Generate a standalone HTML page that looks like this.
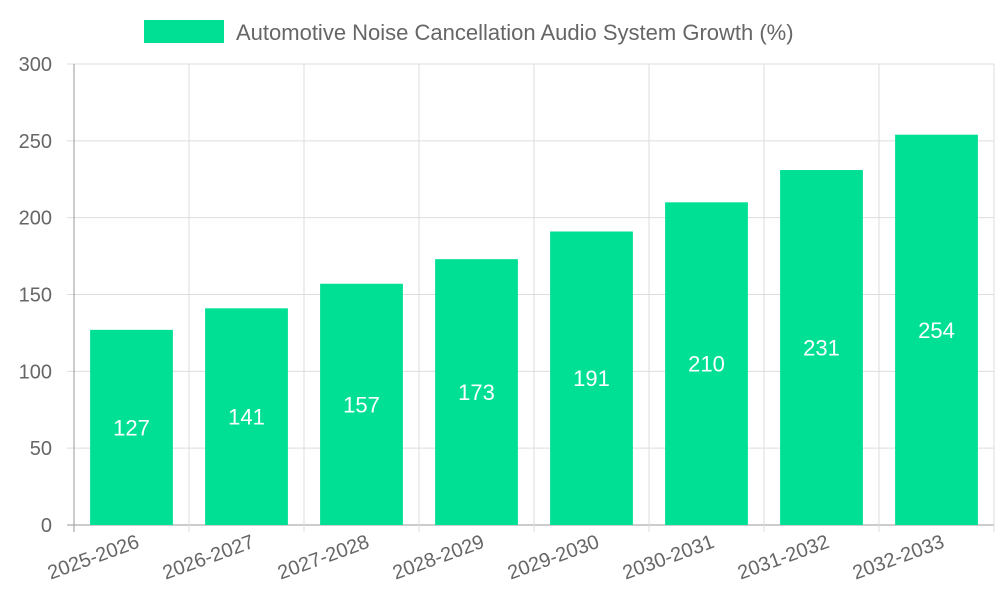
<!DOCTYPE html>
<html><head><meta charset="utf-8"><style>
body{margin:0;background:#fff;font-family:"Liberation Sans",sans-serif}
svg text{font-family:"Liberation Sans",sans-serif}
</style></head><body>
<svg id="chart" width="1000" height="600">
<g id="grid"></g><g id="bars"></g><g id="labels"></g>
<g>
<rect x="144" y="20" width="80" height="23" fill="#00e094"/>
<text x="236" y="40" font-size="22" fill="#666">Automotive Noise Cancellation Audio System Growth (%)</text>
</g>
</svg>
<script>
const categories=["2025-2026","2026-2027","2027-2028","2028-2029","2029-2030","2030-2031","2031-2032","2032-2033"];
const values=[127,141,157,173,191,210,231,254];
const yTicks=[0,50,100,150,200,250,300];
const NS="http://www.w3.org/2000/svg";
const L=74,R=994,T=64,B=525,yMax=300;
const bw=(R-L)/categories.length;
const y=v=>B-(v/yMax)*(B-T);
const x=i=>L+i*bw;
function mk(p,tag,a){const e=document.createElementNS(NS,tag);for(const k in a)e.setAttribute(k,a[k]);p.appendChild(e);return e;}
const g=document.getElementById('grid'),bg=document.getElementById('bars'),lg=document.getElementById('labels');
yTicks.forEach(t=>{
 const ln=mk(g,'line',{x1:L-7,x2:R,y1:y(t),y2:y(t),stroke:t===0?'#999':'#ddd','stroke-width':1});
 
 
 const tx=mk(g,'text',{x:52,y:y(t)+7,'text-anchor':'end','font-size':20,fill:'#666'});
 tx.textContent=t;
 
 
});
for(let i=0;i<=categories.length;i++){
 const ln=mk(g,'line',{x1:x(i),x2:x(i),y1:T,y2:B+7,stroke:i===0?'#999':'#ddd','stroke-width':1});
 
 
}
categories.forEach((c,i)=>{
 const cx=x(i)+bw/2, w=bw*0.72;
 const r=mk(bg,'rect',{x:cx-w/2,y:y(values[i]),width:w,height:B-y(values[i]),fill:'#00e094'});
 
 
 const v=mk(lg,'text',{x:cx,y:(y(values[i])+B)/2+8,'text-anchor':'middle','font-size':22,fill:'#fff'});
 v.textContent=values[i];
 
 
 const t=mk(lg,'text',{x:cx+9,y:B+22,'text-anchor':'end','font-size':20,fill:'#666',transform:`rotate(-20 ${cx+9} ${B+22})`});
 t.textContent=c;
 
 
});
</script>
</body></html>
